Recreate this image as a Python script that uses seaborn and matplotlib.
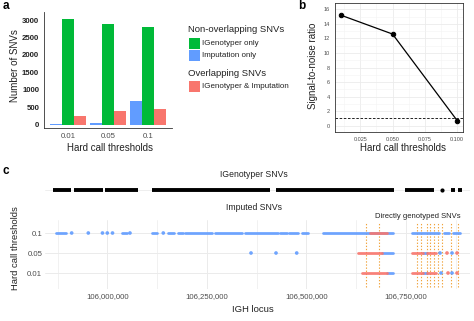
import matplotlib
matplotlib.use("Agg")
import matplotlib.pyplot as plt
import seaborn as sns
import pandas as pd
from matplotlib.patches import Rectangle
from matplotlib.ticker import FuncFormatter

# ---------------- data ----------------
# (a) SNV counts per hard-call threshold
thresholds = ["0.01", "0.05", "0.1"]
igenotyper_only = [3040, 2890, 2810]
imputation_only = [20, 50, 670]
overlapping = [240, 385, 460]

# (b) signal-to-noise ratio
threshold_values = [0.01, 0.05, 0.1]
signal_to_noise = [15.2, 12.6, 0.7]

# (c) SNV positions along the IGH locus (bp); dense stretches given as runs
igenotyper_runs = [(105864300, 105908800), (105917100, 105988400), (105994200, 106076400),
                   (106111600, 106408800), (106423100, 106720400), (106746800, 106820900),
                   (106863600, 106873600), (106881200, 106890500)]
igenotyper_points = [106841000]

imputed_blue_runs_10 = [(105871100, 105897500), (106036200, 106048700), (106111600, 106124100),
                        (106152500, 106167600), (106177600, 106190200), (106195200, 106262300),
                        (106270600, 106338400), (106346000, 106428900), (106433900, 106451500),
                        (106456500, 106479200), (106488400, 106504300), (106542000, 106717900),
                        (106765600, 106833400), (106846000, 106858600), (106868600, 106886200)]
imputed_blue_points_10 = [105910500, 105952300, 105987900, 106000000, 106013100,
                          106057000, 106140700]
imputed_red_runs_10 = [(106660100, 106702800)]

imputed_blue_runs_05 = [(106690200, 106717900), (106793200, 106803300)]
imputed_red_runs_05 = [(106629900, 106690200), (106765600, 106793200), (106803300, 106825900)]
imputed_blue_points_05 = [106361100, 106423900, 106475900, 106836000, 106866100]
imputed_red_points_05 = [106853500, 106878700]

imputed_blue_runs_01 = [(106702800, 106717900), (106793200, 106803300)]
imputed_red_runs_01 = [(106640000, 106702800), (106765600, 106793200), (106803300, 106825900)]
imputed_blue_points_01 = [106838500, 106866100]
imputed_red_points_01 = [106856100, 106878700]

directly_genotyped = [106650000, 106683400, 106777400, 106787000, 106802500, 106811600,
                      106820900, 106829700, 106839700, 106863600, 106881200]

row_labels = ["0.01", "0.05", "0.1"]

# ---------------- styling ----------------
sns.set_theme(style="white")
plt.rcParams["font.family"] = ["Liberation Sans", "DejaVu Sans"]

GREEN, BLUE, RED = "#00BA38", "#619CFF", "#F8766D"
GRID = "#EBEBEB"

W, H = 474, 321
fig = plt.figure(figsize=(W / 100, H / 100), dpi=100)
fig.patch.set_facecolor("white")


def axes_px(left, top, right, bottom):
    return fig.add_axes([left / W, 1 - bottom / H, (right - left) / W, (bottom - top) / H])


def text_px(x, y, s, **kw):
    kw.setdefault("ha", "center")
    kw.setdefault("va", "center")
    fig.text(x / W, 1 - y / H, s, **kw)


def box_px(x0, y0, x1, y1, color):
    fig.add_artist(Rectangle((x0 / W, 1 - y1 / H), (x1 - x0) / W, (y1 - y0) / H,
                             transform=fig.transFigure, facecolor=color, edgecolor="none"))


# ---------------- (a) bar chart ----------------
cat_imp, cat_igt, cat_both = "Imputation only", "IGenotyper only", "IGenotyper & Imputation"
df_a = pd.DataFrame({
    "threshold": thresholds * 3,
    "category": [cat_imp] * 3 + [cat_igt] * 3 + [cat_both] * 3,
    "count": imputation_only + igenotyper_only + overlapping,
})
ax_a = axes_px(44, 12, 172, 128)
sns.barplot(data=df_a, x="threshold", y="count", hue="category",
            hue_order=[cat_imp, cat_igt, cat_both],
            palette={cat_imp: BLUE, cat_igt: GREEN, cat_both: RED},
            width=0.9, saturation=1, legend=False, ax=ax_a, linewidth=0)
ax_a.set_xlim(-0.6, 2.6)
ax_a.set_ylim(-95, 3230)
ax_a.set_yticks([0, 500, 1000, 1500, 2000, 2500, 3000])
ax_a.set_xlabel("")
ax_a.set_ylabel("")
for side in ("top", "right"):
    ax_a.spines[side].set_visible(False)
for side in ("left", "bottom"):
    ax_a.spines[side].set_color("#333333")
    ax_a.spines[side].set_linewidth(0.6)
ax_a.tick_params(axis="both", length=2, width=0.5, color="#333333", pad=1.5)
ax_a.tick_params(axis="y", labelsize=5.6, labelcolor="#222222")
ax_a.tick_params(axis="x", labelsize=5.6, labelcolor="#4D4D4D")
for lab in ax_a.get_yticklabels():
    lab.set_fontweight("bold")
text_px(15, 66, "Number of SNVs", rotation=90, fontsize=7, color="#222222")
text_px(110, 148, "Hard call thresholds", fontsize=7, color="#222222")

# legend of (a)
text_px(188, 29.5, "Non-overlapping SNVs", ha="left", fontsize=6.8, color="#222222")
box_px(189, 38.3, 199.5, 48.5, GREEN)
text_px(202, 43.5, "IGenotyper only", ha="left", fontsize=5.8, color="#222222")
box_px(189, 50.3, 199.5, 60.5, BLUE)
text_px(202, 55.5, "Imputation only", ha="left", fontsize=5.8, color="#222222")
text_px(188, 73, "Overlapping SNVs", ha="left", fontsize=6.8, color="#222222")
box_px(189, 81.3, 199.5, 91.5, RED)
text_px(202, 86.5, "IGenotyper & Imputation", ha="left", fontsize=5.8, color="#222222")

# ---------------- (b) signal-to-noise ----------------
df_b = pd.DataFrame({"threshold": threshold_values, "snr": signal_to_noise})
ax_b = axes_px(335, 3, 463, 132)
ax_b.set_facecolor("white")
ax_b.set_xlim(0.0055, 0.1045)
ax_b.set_ylim(-0.87, 16.87)
ax_b.set_xticks([0.025, 0.05, 0.075, 0.1])
ax_b.set_xticklabels(["0.025", "0.050", "0.075", "0.100"])
ax_b.set_xticks([0.0125, 0.0375, 0.0625, 0.0875], minor=True)
ax_b.set_yticks(list(range(0, 17, 2)))
ax_b.set_yticks(list(range(1, 17, 2)), minor=True)
ax_b.grid(True, which="major", color=GRID, linewidth=0.6)
ax_b.grid(True, which="minor", color="#F3F3F3", linewidth=0.4)
ax_b.set_axisbelow(True)
ax_b.axhline(1, color="black", linestyle=(0, (3, 2)), linewidth=0.6, zorder=2)
sns.lineplot(data=df_b, x="threshold", y="snr", color="black", linewidth=0.9,
             marker="o", markersize=3.2, markeredgecolor="black", ax=ax_b, zorder=3)
ax_b.set_xlabel("")
ax_b.set_ylabel("")
for s in ax_b.spines.values():
    s.set_color("#333333")
    s.set_linewidth(0.6)
ax_b.tick_params(axis="both", which="major", length=2, width=0.5, color="#333333",
                 labelsize=4, labelcolor="#4D4D4D", pad=1.5)
ax_b.tick_params(axis="both", which="minor", length=0)
text_px(313, 66, "Signal-to-noise ratio", rotation=90, fontsize=7, color="#222222")
text_px(403, 148, "Hard call thresholds", fontsize=7, color="#222222")

# ---------------- (c) IGH locus ----------------
X_LO, X_HI = 105843500, 106911300
major = [106000000, 106250000, 106500000, 106750000]
minor = [105875000, 106125000, 106375000, 106625000, 106875000]

# IGenotyper strip
ax_t = axes_px(45, 183, 470, 198)
ax_t.set_xlim(X_LO, X_HI)
ax_t.set_ylim(-1, 1)
ax_t.axhline(0, color=GRID, linewidth=0.6, zorder=0)
ax_t.hlines([0] * len(igenotyper_runs), [r[0] for r in igenotyper_runs],
            [r[1] for r in igenotyper_runs], color="black", linewidth=2.8,
            capstyle="butt", zorder=2)
sns.scatterplot(x=igenotyper_points, y=[0] * len(igenotyper_points), color="black",
                s=9, linewidth=0, ax=ax_t, zorder=3)
ax_t.axis("off")
text_px(254, 175, "IGenotyper SNVs", fontsize=6.2, color="#222222")

# imputed SNVs per threshold
ax_c = axes_px(45, 220, 470, 289)
ax_c.set_xlim(X_LO, X_HI)
ax_c.set_ylim(-0.8, 2.65)
for x in minor:
    ax_c.axvline(x, color=GRID, linewidth=0.5, zorder=0)
for x in major:
    ax_c.axvline(x, color=GRID, linewidth=0.7, zorder=0)
for y in range(3):
    ax_c.axhline(y, color=GRID, linewidth=0.7, zorder=0)

ax_c.vlines(directly_genotyped, -0.7, 2.55, color="#F0A33A", linewidth=0.8,
            linestyle=(0, (1.2, 1.6)), zorder=1)


def draw_runs(runs, row, color):
    if runs:
        ax_c.hlines([row] * len(runs), [r[0] for r in runs], [r[1] for r in runs],
                    color=color, linewidth=2.0, capstyle="round", alpha=0.9, zorder=2)


draw_runs(imputed_blue_runs_10, 2, BLUE)
draw_runs(imputed_red_runs_10, 2, RED)
draw_runs(imputed_blue_runs_05, 1, BLUE)
draw_runs(imputed_red_runs_05, 1, RED)
draw_runs(imputed_blue_runs_01, 0, BLUE)
draw_runs(imputed_red_runs_01, 0, RED)

pts = pd.DataFrame({
    "pos": imputed_blue_points_10 + imputed_blue_points_05 + imputed_red_points_05
           + imputed_blue_points_01 + imputed_red_points_01,
    "row": [2] * len(imputed_blue_points_10) + [1] * len(imputed_blue_points_05)
           + [1] * len(imputed_red_points_05) + [0] * len(imputed_blue_points_01)
           + [0] * len(imputed_red_points_01),
    "set": ["imputed"] * len(imputed_blue_points_10) + ["imputed"] * len(imputed_blue_points_05)
           + ["both"] * len(imputed_red_points_05) + ["imputed"] * len(imputed_blue_points_01)
           + ["both"] * len(imputed_red_points_01),
})
sns.scatterplot(data=pts, x="pos", y="row", hue="set", palette={"imputed": BLUE, "both": RED},
                s=7, linewidth=0, alpha=0.9, legend=False, ax=ax_c, zorder=3)

ax_c.set_xticks(major)
ax_c.xaxis.set_major_formatter(FuncFormatter(lambda v, p: f"{int(round(v)):,}"))
ax_c.set_yticks([0, 1, 2])
ax_c.set_yticklabels(row_labels)
ax_c.set_xlabel("")
ax_c.set_ylabel("")
for s in ax_c.spines.values():
    s.set_visible(False)
ax_c.tick_params(axis="both", length=0, labelsize=5.6, labelcolor="#4D4D4D")
ax_c.tick_params(axis="x", pad=3)
ax_c.tick_params(axis="y", pad=2)

text_px(254, 207, "Imputed SNVs", fontsize=6.2, color="#222222")
text_px(418, 217, "Directly genotyped SNVs", fontsize=5.5, color="#222222")
text_px(15, 248, "Hard call thresholds", rotation=90, fontsize=6.8, color="#222222")
text_px(253, 309, "IGH locus", fontsize=6.8, color="#222222")

# panel letters
text_px(5.5, 6, "a", fontsize=8.5, fontweight="bold", color="black")
text_px(302, 6, "b", fontsize=8.5, fontweight="bold", color="black")
text_px(6, 171.5, "c", fontsize=8.5, fontweight="bold", color="black")

fig.savefig("out.png", dpi=100, facecolor="white")
